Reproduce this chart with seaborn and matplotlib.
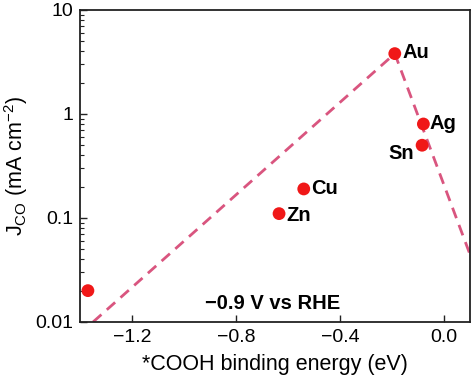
import numpy as np
import pandas as pd
import seaborn as sns
import matplotlib.pyplot as plt
from matplotlib.ticker import FixedLocator, LogLocator, NullFormatter

# data
metals = ["", "Zn", "Cu", "Au", "Ag", "Sn"]
cooh_energy = [-1.37, -0.635, -0.54, -0.19, -0.08, -0.085]
j_co = [0.020, 0.11, 0.19, 3.8, 0.80, 0.50]

# volcano guide line
volcano_x = [-1.35, -0.19, 0.10]
volcano_y = [0.01, 3.8, 0.044]

sns.set_theme(style="ticks")
plt.rcParams["font.family"] = ["Liberation Sans", "DejaVu Sans"]
plt.rcParams["mathtext.fontset"] = "custom"
plt.rcParams["mathtext.rm"] = "Liberation Sans"
plt.rcParams["text.color"] = "black"
plt.rcParams["axes.labelcolor"] = "black"
plt.rcParams["xtick.color"] = "#222222"
plt.rcParams["ytick.color"] = "#222222"
plt.rcParams["xtick.labelcolor"] = "black"
plt.rcParams["ytick.labelcolor"] = "black"

df = pd.DataFrame({"x": cooh_energy, "y": j_co, "metal": metals})
line = pd.DataFrame({"x": volcano_x, "y": volcano_y})

fig = plt.figure(figsize=(4.74, 3.81), dpi=100)
ax = fig.add_axes([0.169, 0.155, 0.823, 0.819])

sns.lineplot(data=line, x="x", y="y", sort=False, ax=ax, color="#d9557f",
             linestyle=(0, (4, 2.6)), linewidth=2)
sns.scatterplot(data=df, x="x", y="y", ax=ax, color="#f01818", s=85,
                edgecolor="none", zorder=3)

ax.set_yscale("log")
ax.set_xlim(-1.4, 0.1)
ax.set_ylim(0.01, 10)

offsets = {"Zn": (5, -1), "Cu": (5, 0.5), "Au": (5.5, 0.5), "Ag": (4.5, 0), "Sn": (-6, -6)}
for m, x, y in zip(metals, cooh_energy, j_co):
    if not m:
        continue
    dx, dy = offsets[m]
    ax.annotate(m, (x, y), xytext=(dx, dy), textcoords="offset points",
                ha="left" if dx > 0 else "right", va="center",
                fontsize=14.5, fontweight="bold")

ax.text(-0.66, 0.0152, "\u22120.9 V vs RHE", ha="center", va="center",
        fontsize=14.5, fontweight="bold")

ax.xaxis.set_major_locator(FixedLocator([-1.2, -0.8, -0.4, 0.0]))
ax.set_xticklabels(["\u22121.2", "\u22120.8", "\u22120.4", "0.0"])
ax.yaxis.set_major_locator(FixedLocator([0.01, 0.1, 1, 10]))
ax.set_yticklabels(["0.01", "0.1", "1", "10"])
ax.yaxis.set_minor_locator(LogLocator(base=10, subs=np.arange(2, 10)))
ax.yaxis.set_minor_formatter(NullFormatter())

ax.tick_params(axis="both", which="major", direction="in", length=5,
               width=1, labelsize=14, pad=5)
ax.tick_params(axis="y", which="minor", direction="in", length=3,
               width=0.8)
for s in ax.spines.values():
    s.set_linewidth(1.3)
    s.set_color("#222222")

ax.set_xlabel("*COOH binding energy (eV)", fontsize=15.5, labelpad=6)
ax.set_ylabel(r"J$_{\mathrm{CO}}$ (mA cm$^{-2}$)", fontsize=15.5, labelpad=4)

fig.savefig("out.png", dpi=100)
